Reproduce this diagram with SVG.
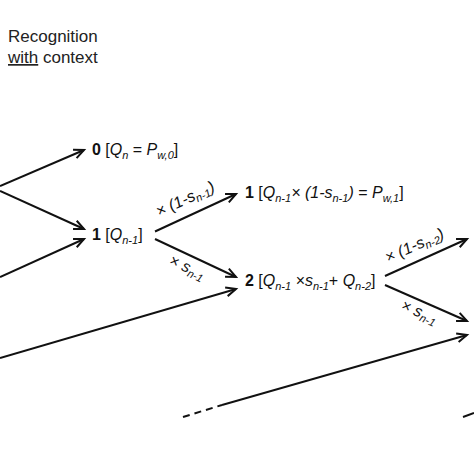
<svg xmlns="http://www.w3.org/2000/svg" width="474" height="474" viewBox="0 0 474 474">
<style>
text{font-family:"Liberation Sans",Arial,sans-serif;fill:#111}
.t{font-size:17px;fill:#222}
.n{font-size:16px}
.b{font-weight:bold;font-style:normal}
.i{font-style:italic}
.s{font-size:11px;font-style:italic}
.l{font-size:16px;font-style:italic}
.c line,.c path{stroke:#111;stroke-width:2;fill:none}
</style>
<defs>
<marker id="ah" markerUnits="userSpaceOnUse" markerWidth="16" markerHeight="16" viewBox="-12 -8 14 16" refX="0" refY="0" orient="auto">
<path d="M-10,-4.5 L0,0 L-10,4.5" fill="none" stroke="#111" stroke-width="2"/>
</marker>
</defs>
<rect width="474" height="474" fill="#fff"/>
<g id="title">
<text class="t" x="8" y="42">Recognition</text>
<text class="t" x="8" y="63"><tspan text-decoration="underline">with</tspan> context</text>
</g>
<g class="c" id="connectors">
<line x1="0" y1="186" x2="84" y2="150" marker-end="url(#ah)"/>
<line x1="0" y1="191" x2="84" y2="229" marker-end="url(#ah)"/>
<line x1="0" y1="277" x2="84" y2="239" marker-end="url(#ah)"/>
<line x1="155" y1="231.5" x2="236" y2="194" marker-end="url(#ah)"/>
<line x1="155" y1="239" x2="236" y2="277" marker-end="url(#ah)"/>
<line x1="0" y1="358" x2="236" y2="289" marker-end="url(#ah)"/>
<line x1="385" y1="276" x2="467" y2="239" marker-end="url(#ah)"/>
<line x1="385" y1="285" x2="467" y2="321" marker-end="url(#ah)"/>
<line x1="222" y1="405" x2="467" y2="335" marker-end="url(#ah)"/>
<line x1="183" y1="417" x2="222" y2="405" stroke-dasharray="7,5"/>
<line x1="463" y1="417" x2="474" y2="413"/>
</g>
<g id="edge-labels">
<text class="l" transform="translate(159,217) rotate(-25)">× (1-s<tspan class="s" dy="3">n-1</tspan><tspan dy="-3">)</tspan></text>
<text class="l" transform="translate(168,264) rotate(25)">× s<tspan class="s" dy="3">n-1</tspan></text>
<text class="l" transform="translate(388,263) rotate(-24)">× (1-s<tspan class="s" dy="3">n-2</tspan><tspan dy="-3">)</tspan></text>
<text class="l" transform="translate(400,309) rotate(24)">× s<tspan class="s" dy="3">n-1</tspan></text>
</g>
<g id="node-0">
<text class="n" x="92" y="155"><tspan class="b">0</tspan> [<tspan class="i">Q</tspan><tspan class="s" dy="4">n</tspan><tspan dy="-4"> = </tspan><tspan class="i">P</tspan><tspan class="s" dy="4">w,0</tspan><tspan dy="-4">]</tspan></text>
</g>
<g id="node-1a">
<text class="n" x="92" y="240"><tspan class="b">1</tspan> [<tspan class="i">Q</tspan><tspan class="s" dy="4">n-1</tspan><tspan dy="-4">]</tspan></text>
</g>
<g id="node-1b">
<text class="n" x="245" y="198"><tspan class="b">1</tspan> [<tspan class="i">Q</tspan><tspan class="s" dy="4">n-1</tspan><tspan class="i" dy="-4">×</tspan><tspan class="i"> (1-s</tspan><tspan class="s" dy="4">n-1</tspan><tspan class="i" dy="-4">)</tspan> = <tspan class="i">P</tspan><tspan class="s" dy="4">w,1</tspan><tspan dy="-4">]</tspan></text>
</g>
<g id="node-2">
<text class="n" x="245" y="286"><tspan class="b">2</tspan> [<tspan class="i">Q</tspan><tspan class="s" dy="4">n-1</tspan><tspan class="i" dy="-4"> ×s</tspan><tspan class="s" dy="4">n-1</tspan><tspan dy="-4">+ </tspan><tspan class="i">Q</tspan><tspan class="s" dy="4">n-2</tspan><tspan dy="-4">]</tspan></text>
</g>
</svg>
